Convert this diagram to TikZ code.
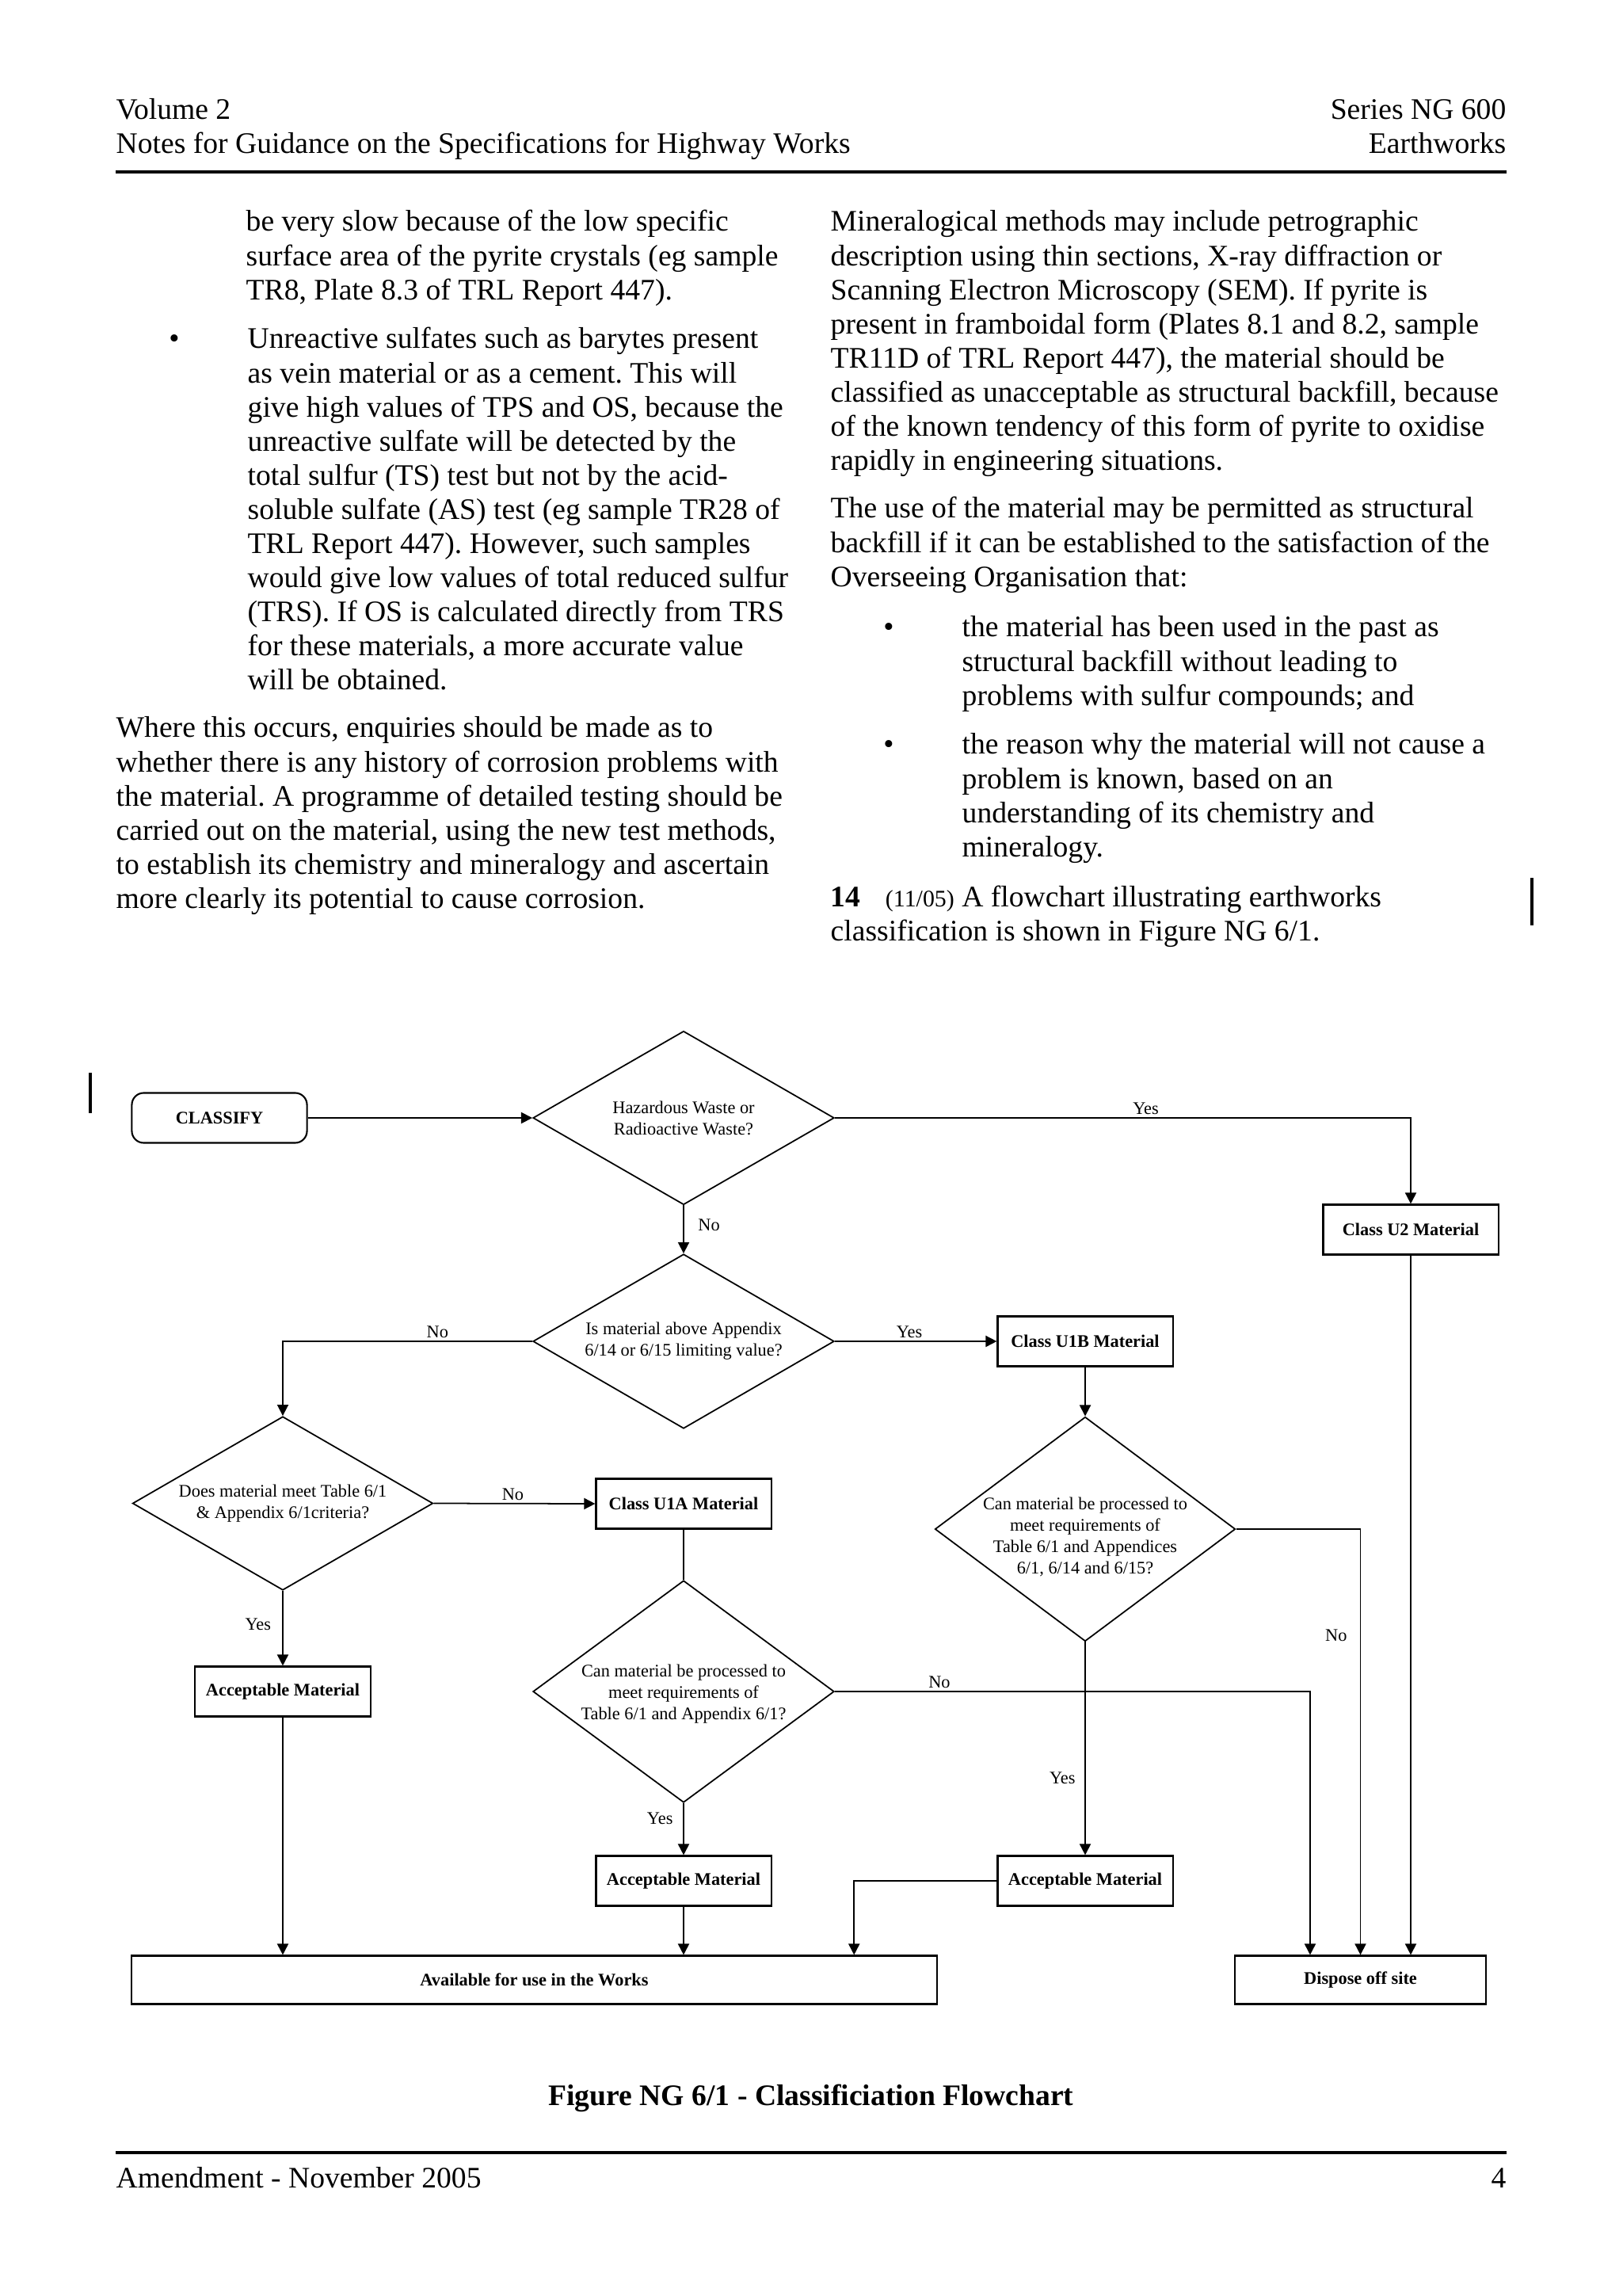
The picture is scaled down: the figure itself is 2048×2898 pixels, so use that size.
\documentclass[tikz,border=0pt]{standalone}
\usepackage{fontspec}
\setmainfont{Liberation Serif}
\usetikzlibrary{arrows.meta,shapes.geometric}
\frenchspacing

\tikzset{
  bodytxt/.style={anchor=base west,inner sep=0pt,font=\fontsize{10.7}{12.25}\selectfont},
  bodyr/.style={bodytxt,anchor=base east},
  rulebar/.style={line width=1.15pt},
  changebar/.style={line width=0.9pt},
  procbox/.style={draw,line width=0.6pt,minimum width=2.21cm,minimum height=0.63cm,inner sep=0pt,font=\fontsize{6.35}{7.7}\selectfont\bfseries},
  startbox/.style={procbox,rounded corners=0.15cm},
  decision/.style={draw,diamond,line width=0.5pt,minimum width=3.8cm,minimum height=2.19cm,inner sep=0pt},
  qtext/.style={align=center,inner sep=0pt,font=\fontsize{6.35}{7.7}\selectfont},
  lbl/.style={inner sep=1pt,font=\fontsize{6.35}{7.7}\selectfont},
  conn/.style={line width=0.5pt},
  arr/.style={conn,-{Triangle[length=4pt,width=4pt]}}
}

\begin{document}
\begin{tikzpicture}[x=0.01cm,y=-0.01cm]
  \useasboundingbox (0,0) rectangle (2048,2898);

  % page header
  \node[bodytxt] (vol) at (146,151) {Volume 2};
  \node[bodytxt] (notes) at (146,194) {Notes for Guidance on the Specifications for Highway Works};
  \node[bodyr] (series) at (1902,151) {Series NG 600};
  \node[bodyr] (earth) at (1902,194) {Earthworks};
  \draw[rulebar] (146,217) -- (1902,217);

  % left column
  \foreach \ln [count=\i from 0] in {
    {be very slow because of the low specific},
    {surface area of the pyrite crystals (eg sample},
    {TR8, Plate 8.3 of TRL Report 447).}}
    \node[bodytxt] (la\i) at (310,{292+43.06*\i}) {\ln};
  \node[bodytxt,anchor=base] (bul1) at (220,440) {\textbullet};
  \foreach \ln [count=\i from 0] in {
    {Unreactive sulfates such as barytes present},
    {as vein material or as a cement. This will},
    {give high values of TPS and OS, because the},
    {unreactive sulfate will be detected by the},
    {total sulfur (TS) test but not by the acid-},
    {soluble sulfate (AS) test (eg sample TR28 of},
    {TRL Report 447). However, such samples},
    {would give low values of total reduced sulfur},
    {(TRS). If OS is calculated directly from TRS},
    {for these materials, a more accurate value},
    {will be obtained.}}
    \node[bodytxt] (lb\i) at (312,{440+43.06*\i}) {\ln};
  \foreach \ln [count=\i from 0] in {
    {Where this occurs, enquiries should be made as to},
    {whether there is any history of corrosion problems with},
    {the material. A programme of detailed testing should be},
    {carried out on the material, using the new test methods,},
    {to establish its chemistry and mineralogy and ascertain},
    {more clearly its potential to cause corrosion.}}
    \node[bodytxt] (lc\i) at (146,{931+43.06*\i}) {\ln};

  % right column
  \foreach \ln [count=\i from 0] in {
    {Mineralogical methods may include petrographic},
    {description using thin sections, X-ray diffraction or},
    {Scanning Electron Microscopy (SEM). If pyrite is},
    {present in framboidal form (Plates 8.1 and 8.2, sample},
    {TR11D of TRL Report 447), the material should be},
    {classified as unacceptable as structural backfill, because},
    {of the known tendency of this form of pyrite to oxidise},
    {rapidly in engineering situations.}}
    \node[bodytxt] (ra\i) at (1048,{292+43.06*\i}) {\ln};
  \foreach \ln [count=\i from 0] in {
    {The use of the material may be permitted as structural},
    {backfill if it can be established to the satisfaction of the},
    {Overseeing Organisation that:}}
    \node[bodytxt] (rb\i) at (1048,{654+43.06*\i}) {\ln};
  \node[bodytxt,anchor=base] (bul2) at (1122,804) {\textbullet};
  \foreach \ln [count=\i from 0] in {
    {the material has been used in the past as},
    {structural backfill without leading to},
    {problems with sulfur compounds; and}}
    \node[bodytxt] (rc\i) at (1214,{804+43.06*\i}) {\ln};
  \node[bodytxt,anchor=base] (bul3) at (1122,952) {\textbullet};
  \foreach \ln [count=\i from 0] in {
    {the reason why the material will not cause a},
    {problem is known, based on an},
    {understanding of its chemistry and},
    {mineralogy.}}
    \node[bodytxt] (rd\i) at (1214,{952+43.06*\i}) {\ln};
  \node[bodytxt] (re0) at (1048,1144) {\textbf{14}\hspace{9pt}{\fontsize{8.5}{10}\selectfont(11/05)} A flowchart illustrating earthworks};
  \node[bodytxt] (re1) at (1048,1187) {classification is shown in Figure NG 6/1.};

  % change bars
  \draw[changebar] (1934,1108) -- (1934,1168);
  \draw[changebar] (114,1354) -- (114,1405);

  % flowchart nodes
  \node[startbox] (classify) at (277,1411) {CLASSIFY};
  \node[decision] (q1) at (863,1411) {};
  \node[qtext] (q1t) at (q1) {Hazardous Waste or\\Radioactive Waste?};
  \node[procbox] (u2) at (1781,1552) {Class U2 Material};
  \node[decision,minimum height=2.2cm] (q2) at (863,1693) {};
  \node[qtext] (q2t) at (q2) {Is material above Appendix\\6/14 or 6/15 limiting value?};
  \node[procbox] (u1b) at (1370,1693) {Class U1B Material};
  \node[decision,minimum width=3.79cm] (q3) at (357,1897.5) {};
  \node[qtext] (q3t) at (q3) {Does material meet Table 6/1\\\& Appendix 6/1criteria?};
  \node[procbox] (u1a) at (863,1898) {Class U1A Material};
  \node[decision,minimum width=3.79cm,minimum height=2.83cm] (q5) at (1370,1930) {};
  \node[qtext] (q5t) at (1370,1940) {Can material be processed to\\meet requirements of\\Table 6/1 and Appendices\\6/1, 6/14 and 6/15?};
  \node[procbox] (acc1) at (357,2135) {Acceptable Material};
  \node[decision,minimum height=2.8cm] (q4) at (863,2135) {};
  \node[qtext] (q4t) at ([yshift=-0.03cm]q4) {Can material be processed to\\meet requirements of\\Table 6/1 and Appendix 6/1?};
  \node[procbox] (acc2) at (863,2374) {Acceptable Material};
  \node[procbox] (acc3) at (1370,2374) {Acceptable Material};
  \node[procbox,minimum width=10.17cm,minimum height=0.61cm] (avail) at (674.5,2499) {Available for use in the Works};
  \node[procbox,minimum width=3.17cm,minimum height=0.61cm] (dispose) at (1717.5,2499) {Dispose off site};
  \coordinate (dspin) at ([xshift=-0.635cm]dispose.north);
  \coordinate (avin) at ([xshift=4.035cm]avail.north);

  % connectors
  \draw[arr] (classify.east) -- (q1.west);
  \draw[arr] (q1.east) -- node[lbl,above,pos=0.54] {Yes} (q1.east -| u2) -- (u2.north);
  \draw[arr] (q1.south) -- node[lbl,right=4pt,pos=0.41] {No} (q2.north);
  \draw[arr] (q2.west) -- node[lbl,above,pos=0.38] {No} (q2.west -| q3) -- (q3.north);
  \draw[arr] (q2.east) -- node[lbl,above,pos=0.46] {Yes} (u1b.west);
  \draw[arr] (u1b.south) -- (q5.north);
  \draw[arr] (q5.east) -- (q5.east -| dispose) -- node[lbl,left=3.6pt,pos=0.25] {No} (dispose.north);
  \draw[arr] (u2.south) -- (u2.south |- dispose.north);
  \draw[arr] (q3.east) -- node[lbl,above,pos=0.49] {No} (u1a.west);
  \draw[conn] (u1a.south) -- (q4.north);
  \draw[arr] (q3.south) -- node[lbl,left=3pt,pos=0.45] {Yes} (acc1.north);
  \draw[arr] (acc1.south) -- (acc1.south |- avail.north);
  \draw[arr] (q4.east) -- node[lbl,above,pos=0.22] {No} (q4.east -| dspin) -- (dspin);
  \draw[arr] (q4.south) -- node[lbl,left=2.6pt,pos=0.3] {Yes} (acc2.north);
  \draw[arr] (acc2.south) -- (acc2.south |- avail.north);
  \draw[arr] (q5.south) -- node[lbl,left=2.3pt,pos=0.64] {Yes} (acc3.north);
  \draw[arr] (acc3.west) -| (avin);

  % caption and footer
  \node[anchor=base,inner sep=0pt,font=\fontsize{10.7}{12.25}\selectfont\bfseries] (caption) at (1024,2657) {Figure NG 6/1 - Classificiation Flowchart};
  \draw[rulebar] (146,2717) -- (1902,2717);
  \node[bodytxt] (amend) at (146,2761) {Amendment - November 2005};
  \node[bodyr] (pageno) at (1902,2761) {4};
\end{tikzpicture}
\end{document}
